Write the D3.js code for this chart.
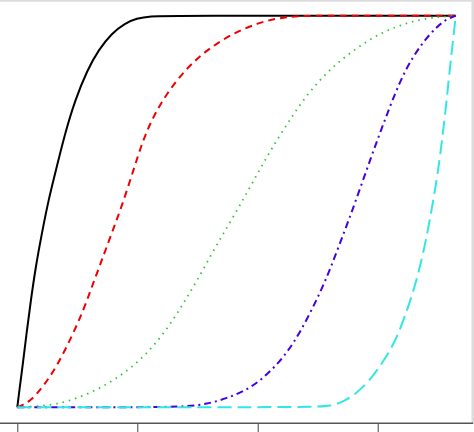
<!DOCTYPE html>
<html>
<head>
<meta charset="utf-8">
<script src="https://cdn.jsdelivr.net/npm/d3@7"></script>
<style>
  html, body { margin: 0; padding: 0; background: #fff; }
  svg { display: block; }
</style>
</head>
<body>
<svg id="chart" width="474" height="432"></svg>
<script>
// ---- data (normalized x in [0,1], y in [0,1]) ----
const tickValues = [0, 0.2737, 0.5484, 0.8221];
const tickLabels = ["", "", "", ""];

const blackX = [0, 0.006, 0.012, 0.021, 0.031, 0.042, 0.056, 0.071, 0.090, 0.109, 0.132, 0.160, 0.185, 0.215, 0.246, 0.272, 0.303, 0.35, 1];
const blackY = [0, 0.055, 0.104, 0.189, 0.274, 0.359, 0.444, 0.529, 0.614, 0.700, 0.785, 0.862, 0.912, 0.955, 0.981, 0.993, 0.999, 1, 1];

const redX = [0, 0.029, 0.059, 0.090, 0.124, 0.151, 0.173, 0.193, 0.215, 0.238, 0.265, 0.287, 0.310, 0.341, 0.386, 0.432, 0.485, 0.554, 0.622, 0.683, 1];
const redY = [0, 0.014, 0.053, 0.104, 0.180, 0.248, 0.317, 0.376, 0.444, 0.512, 0.606, 0.683, 0.742, 0.802, 0.866, 0.912, 0.951, 0.985, 0.999, 1, 1];

const greenX = [0, 0.075, 0.128, 0.181, 0.227, 0.272, 0.310, 0.348, 0.379, 0.409, 0.440, 0.470, 0.500, 0.531, 0.561, 0.592, 0.622, 0.652, 0.690, 0.728, 0.774, 0.820, 0.873, 0.926, 1];
const greenY = [0, 0.004, 0.019, 0.044, 0.074, 0.112, 0.155, 0.210, 0.266, 0.321, 0.385, 0.444, 0.500, 0.563, 0.623, 0.683, 0.734, 0.785, 0.836, 0.878, 0.917, 0.951, 0.976, 0.993, 1];

const blueX = [0, 0.303, 0.386, 0.432, 0.478, 0.523, 0.561, 0.599, 0.630, 0.660, 0.690, 0.713, 0.736, 0.759, 0.782, 0.805, 0.827, 0.850, 0.873, 0.896, 0.926, 0.957, 0.979, 1];
const blueY = [0, 0, 0.002, 0.008, 0.023, 0.044, 0.074, 0.117, 0.163, 0.223, 0.291, 0.351, 0.419, 0.487, 0.559, 0.632, 0.700, 0.768, 0.832, 0.883, 0.934, 0.972, 0.991, 1];

const cyanX = [0, 0.683, 0.713, 0.744, 0.774, 0.805, 0.835, 0.862, 0.884, 0.907, 0.926, 0.941, 0.957, 0.968, 0.978, 0.987, 0.995, 1];
const cyanY = [0, 0, 0.003, 0.014, 0.036, 0.070, 0.117, 0.168, 0.231, 0.308, 0.393, 0.478, 0.580, 0.674, 0.768, 0.870, 0.946, 1];

const seriesNames = ["black", "red", "green", "blue", "cyan"];

// ---- chart ----
const svg = d3.select("#chart");
const W = 474, H = 432;

const x = d3.scaleLinear().domain([0, 1]).range([17.3, 455.7]);
const y = d3.scaleLinear().domain([0, 1]).range([407.3, 15.7]);

// light gray frame remnants (top and right)
svg.append("rect").attr("x", 0).attr("y", 0).attr("width", W).attr("height", 1.7).attr("fill", "#dcdcdc");
svg.append("rect").attr("x", 471.5).attr("y", 0).attr("width", 2.5).attr("height", 424).attr("fill", "#dcdcdc");

// bottom axis
const axis = d3.axisBottom(x)
  .tickValues(tickValues)
  .tickFormat((d, i) => tickLabels[i])
  .tickSizeInner(10)
  .tickSizeOuter(0);

const gAxis = svg.append("g").attr("transform", "translate(0,423.3)").call(axis);
gAxis.select(".domain").remove();
gAxis.selectAll(".tick line").attr("stroke", "#444").attr("stroke-width", 1);
svg.append("line")
  .attr("x1", 0).attr("x2", 473).attr("y1", 423.3).attr("y2", 423.3)
  .attr("stroke", "#555").attr("stroke-width", 1.5);

const line = d3.line().x(d => x(d[0])).y(d => y(d[1])).curve(d3.curveBasis);
const zip = (xs, ys) => xs.map((v, i) => [v, ys[i]]);

const series = [
  { name: "black", pts: zip(blackX, blackY), color: "#000000", dash: null, width: 2 },
  { name: "red", pts: zip(redX, redY), color: "#ee0000", dash: "7,5", width: 2 },
  { name: "green", pts: zip(greenX, greenY), color: "#2ec42e", dash: "1.5,5", width: 1.8 },
  { name: "blue", pts: zip(blueX, blueY), color: "#4400dd", dash: "7,4,2,4", width: 2 },
  { name: "cyan", pts: zip(cyanX, cyanY), color: "#33e6e6", dash: "14,6", width: 2 }
];

series.forEach(s => {
  const p = svg.append("path")
    .datum(s.pts)
    .attr("fill", "none")
    .attr("stroke", s.color)
    .attr("stroke-width", s.width)
    .attr("d", line);
  if (s.dash) p.attr("stroke-dasharray", s.dash);
});
</script>
</body>
</html>
